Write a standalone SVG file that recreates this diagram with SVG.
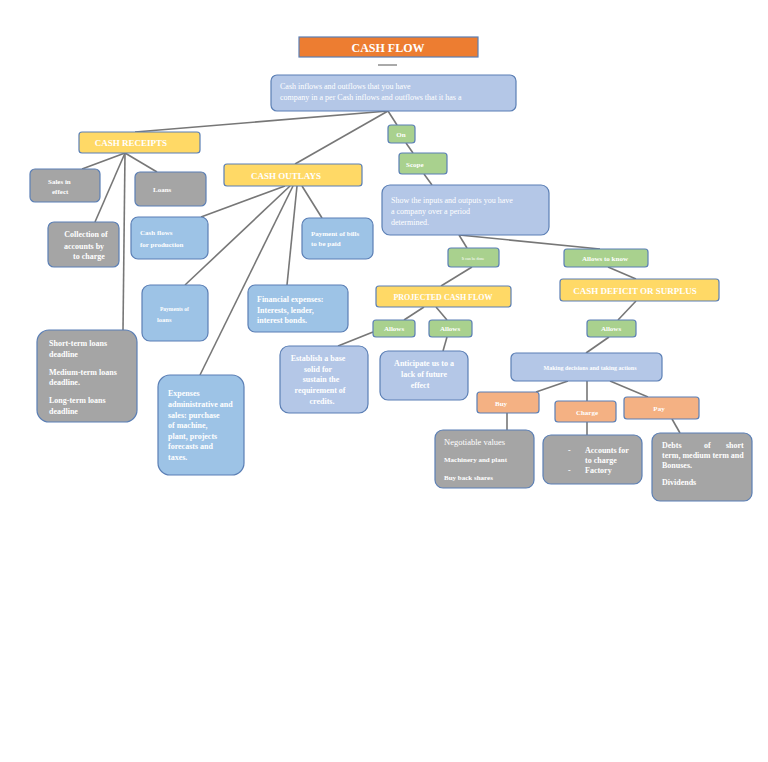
<svg xmlns="http://www.w3.org/2000/svg" width="768" height="762" viewBox="0 0 768 762">
<style>
rect{stroke:#5B7FB5;stroke-width:1.2}
.y{fill:#FFD966}.g{fill:#A9D18E}.b{fill:#9DC3E6}.l{fill:#B4C7E7}.gr{fill:#A5A5A5}.o{fill:#F4B183}
text{font-family:"Liberation Serif",serif;fill:#fff;font-weight:bold;font-size:8px}
.n{font-weight:normal}
.c{text-anchor:middle}
#conn line{stroke:#777;stroke-width:1.6}
</style>
<rect width="768" height="762" fill="#fff" style="stroke:none"/>
<g id="conn">
<line x1="388" y1="111" x2="135" y2="132"/><line x1="388" y1="111" x2="295" y2="164"/><line x1="388" y1="111" x2="397" y2="125"/>
<line x1="406" y1="143" x2="413" y2="153"/><line x1="424" y1="174" x2="432" y2="185"/>
<line x1="459" y1="235" x2="467" y2="248"/><line x1="459" y1="235" x2="600" y2="249"/>
<line x1="472" y1="267" x2="441" y2="286"/><line x1="608" y1="267" x2="636" y2="279"/>
<line x1="424" y1="307" x2="404" y2="320"/><line x1="436" y1="307" x2="447" y2="320"/>
<line x1="373" y1="332" x2="338" y2="346"/><line x1="447" y1="337" x2="443" y2="351"/>
<line x1="636" y1="301" x2="618" y2="320"/><line x1="609" y1="337" x2="586" y2="353"/>
<line x1="568" y1="381" x2="536" y2="392"/><line x1="587" y1="381" x2="587" y2="401"/><line x1="610" y1="381" x2="648" y2="397"/>
<line x1="507" y1="413" x2="507" y2="430"/><line x1="587" y1="422" x2="587" y2="435"/><line x1="672" y1="419" x2="680" y2="433"/>
<line x1="125" y1="153" x2="82" y2="169"/><line x1="125" y1="153" x2="157" y2="172"/><line x1="125" y1="153" x2="95" y2="222"/><line x1="125" y1="153" x2="123" y2="330"/>
<line x1="285" y1="186" x2="201" y2="217"/><line x1="290" y1="186" x2="185" y2="285"/><line x1="293" y1="186" x2="200" y2="375"/><line x1="297" y1="186" x2="287" y2="285"/><line x1="302" y1="186" x2="322" y2="218"/>
</g>
<g id="title"><rect x="299" y="37" width="179" height="20" fill="#ED7D31"/><text x="388" y="52" class="c" style="font-size:12px">CASH FLOW</text><line x1="378" y1="65" x2="397" y2="65" stroke="#555"/></g>
<g id="main"><rect x="271" y="75" width="245" height="36" rx="6" class="l"/><text x="280" y="89" class="n">Cash  inflows  and  outflows  that  you  have</text><text x="280" y="100" class="n">company in a per Cash inflows and outflows that it has a</text></g>
<g id="receipts"><rect x="79" y="132" width="121" height="21" rx="3" class="y"/><text x="131" y="146" class="c" style="font-size:9px">CASH RECEIPTS</text></g>
<g id="outlays"><rect x="224" y="164" width="138" height="22" rx="3" class="y"/><text x="286" y="179" class="c" style="font-size:9px">CASH OUTLAYS</text></g>
<g id="on"><rect x="388" y="125" width="27" height="18" rx="3" class="g"/><text x="401" y="137" class="c" style="font-size:7px">On</text></g>
<g id="scope"><rect x="399" y="153" width="48" height="21" rx="3" class="g"/><text x="406" y="167" style="font-size:7px">Scope</text></g>
<g id="show"><rect x="382" y="185" width="167" height="50" rx="8" class="l"/><text x="391" y="203" class="n">Show the inputs and outputs you have</text><text x="391" y="214" class="n">a    company    over    a    period</text><text x="391" y="225" class="n">determined.</text></g>
<g id="can"><rect x="448" y="248" width="51" height="19" rx="3" class="g"/><text x="473" y="260" class="c n" style="font-size:4px">It can be done</text></g>
<g id="know"><rect x="564" y="249" width="84" height="18" rx="3" class="g"/><text x="605" y="261" class="c" style="font-size:7px">Allows to know</text></g>
<g id="pcf"><rect x="376" y="286" width="135" height="21" rx="3" class="y"/><text x="443" y="300" class="c">PROJECTED CASH FLOW</text></g>
<g id="cds"><rect x="560" y="279" width="159" height="22" rx="3" class="y"/><text x="635" y="294" class="c" style="font-size:9px">CASH DEFICIT OR SURPLUS</text></g>
<g id="allows1"><rect x="373" y="320" width="42" height="17" rx="3" class="g"/><text x="394" y="331" class="c" style="font-size:7px">Allows</text></g>
<g id="allows2"><rect x="429" y="320" width="43" height="17" rx="3" class="g"/><text x="450" y="331" class="c" style="font-size:7px">Allows</text></g>
<g id="allows3"><rect x="587" y="320" width="49" height="17" rx="3" class="g"/><text x="611" y="331" class="c" style="font-size:7px">Allows</text></g>
<g id="establish"><rect x="280" y="346" width="88" height="67" rx="9" class="l"/><g class="c" style="font-size:7.5px"><text x="318" y="361">Establish a base</text><text x="318" y="372">solid for</text><text x="321" y="382">sustain the</text><text x="320" y="393">requirement of</text><text x="322" y="404">credits.</text></g></g>
<g id="anticipate"><rect x="380" y="351" width="88" height="49" rx="8" class="l"/><g class="c" style="font-size:9px"><text x="424" y="366">Anticipate us to a</text><text x="424" y="377">lack of future</text><text x="420" y="388">effect</text></g></g>
<g id="making"><rect x="511" y="353" width="151" height="28" rx="5" class="l"/><text x="590" y="370" class="c" style="font-size:6px">Making decisions and taking actions</text></g>
<g id="buy"><rect x="477" y="392" width="62" height="21" rx="3" class="o"/><text x="501" y="406" class="c" style="font-size:7px">Buy</text></g>
<g id="charge"><rect x="555" y="401" width="61" height="21" rx="3" class="o"/><text x="587" y="415" class="c" style="font-size:7px">Charge</text></g>
<g id="pay"><rect x="624" y="397" width="75" height="22" rx="3" class="o"/><text x="659" y="411" class="c" style="font-size:7px">Pay</text></g>
<g id="negotiable"><rect x="435" y="430" width="99" height="58" rx="8" class="gr"/><text x="444" y="445" class="n" style="font-size:8.5px">Negotiable values</text><text x="444" y="462" style="font-size:7px">Machinery and plant</text><text x="444" y="480" style="font-size:7px">Buy back shares</text></g>
<g id="accounts"><rect x="543" y="435" width="99" height="49" rx="8" class="gr"/><g style="font-size:7px"><text x="568" y="453">-</text><text x="585" y="453">Accounts for</text><text x="585" y="463">to charge</text><text x="568" y="473">-</text><text x="585" y="473">Factory</text></g></g>
<g id="debts"><rect x="652" y="433" width="100" height="68" rx="8" class="gr"/><g style="font-size:7px"><text x="662" y="448">Debts</text><text x="704" y="448">of</text><text x="726" y="448">short</text><text x="662" y="458">term, medium term and</text><text x="662" y="468">Bonuses.</text><text x="662" y="485">Dividends</text></g></g>
<g id="sales"><rect x="30" y="169" width="70" height="33" rx="5" class="gr"/><text x="48" y="184" style="font-size:7px">Sales in</text><text x="52" y="194" style="font-size:7px">effect</text></g>
<g id="loans"><rect x="135" y="172" width="71" height="34" rx="5" class="gr"/><text x="153" y="192" style="font-size:7px">Loans</text></g>
<g id="collection"><rect x="48" y="222" width="71" height="45" rx="6" class="gr"/><g class="c" style="font-size:7px"><text x="86" y="237">Collection of</text><text x="84" y="249">accounts by</text><text x="89" y="259">to charge</text></g></g>
<g id="shortterm"><rect x="37" y="330" width="100" height="92" rx="12" class="gr"/><g style="font-size:7px"><text x="49" y="346">Short-term loans</text><text x="49" y="357">deadline</text><text x="49" y="375">Medium-term loans</text><text x="49" y="385">deadline.</text><text x="49" y="403">Long-term loans</text><text x="49" y="414">deadline</text></g></g>
<g id="cashflows"><rect x="131" y="217" width="77" height="42" rx="7" class="b"/><text x="140" y="235" style="font-size:7px">Cash flows</text><text x="140" y="247" style="font-size:7px">for production</text></g>
<g id="bills"><rect x="302" y="218" width="71" height="41" rx="7" class="b"/><text x="311" y="236" style="font-size:7px">Payment of bills</text><text x="311" y="246" style="font-size:7px">to be paid</text></g>
<g id="payloans"><rect x="142" y="285" width="66" height="56" rx="8" class="b"/><text x="160" y="311" style="font-size:5.5px">Payments of</text><text x="157" y="322" style="font-size:6.5px">loans</text></g>
<g id="financial"><rect x="248" y="285" width="100" height="47" rx="7" class="b"/><g style="font-size:7px"><text x="257" y="302">Financial expenses:</text><text x="257" y="313">Interests, lender,</text><text x="257" y="323">interest bonds.</text></g></g>
<g id="expenses"><rect x="158" y="375" width="86" height="100" rx="12" class="b"/><g style="font-size:7px"><text x="168" y="396">Expenses</text><text x="168" y="407">administrative and</text><text x="168" y="418">sales: purchase</text><text x="168" y="428">of machine,</text><text x="168" y="439">plant, projects</text><text x="168" y="449">forecasts and</text><text x="168" y="460">taxes.</text></g></g>
</svg>
